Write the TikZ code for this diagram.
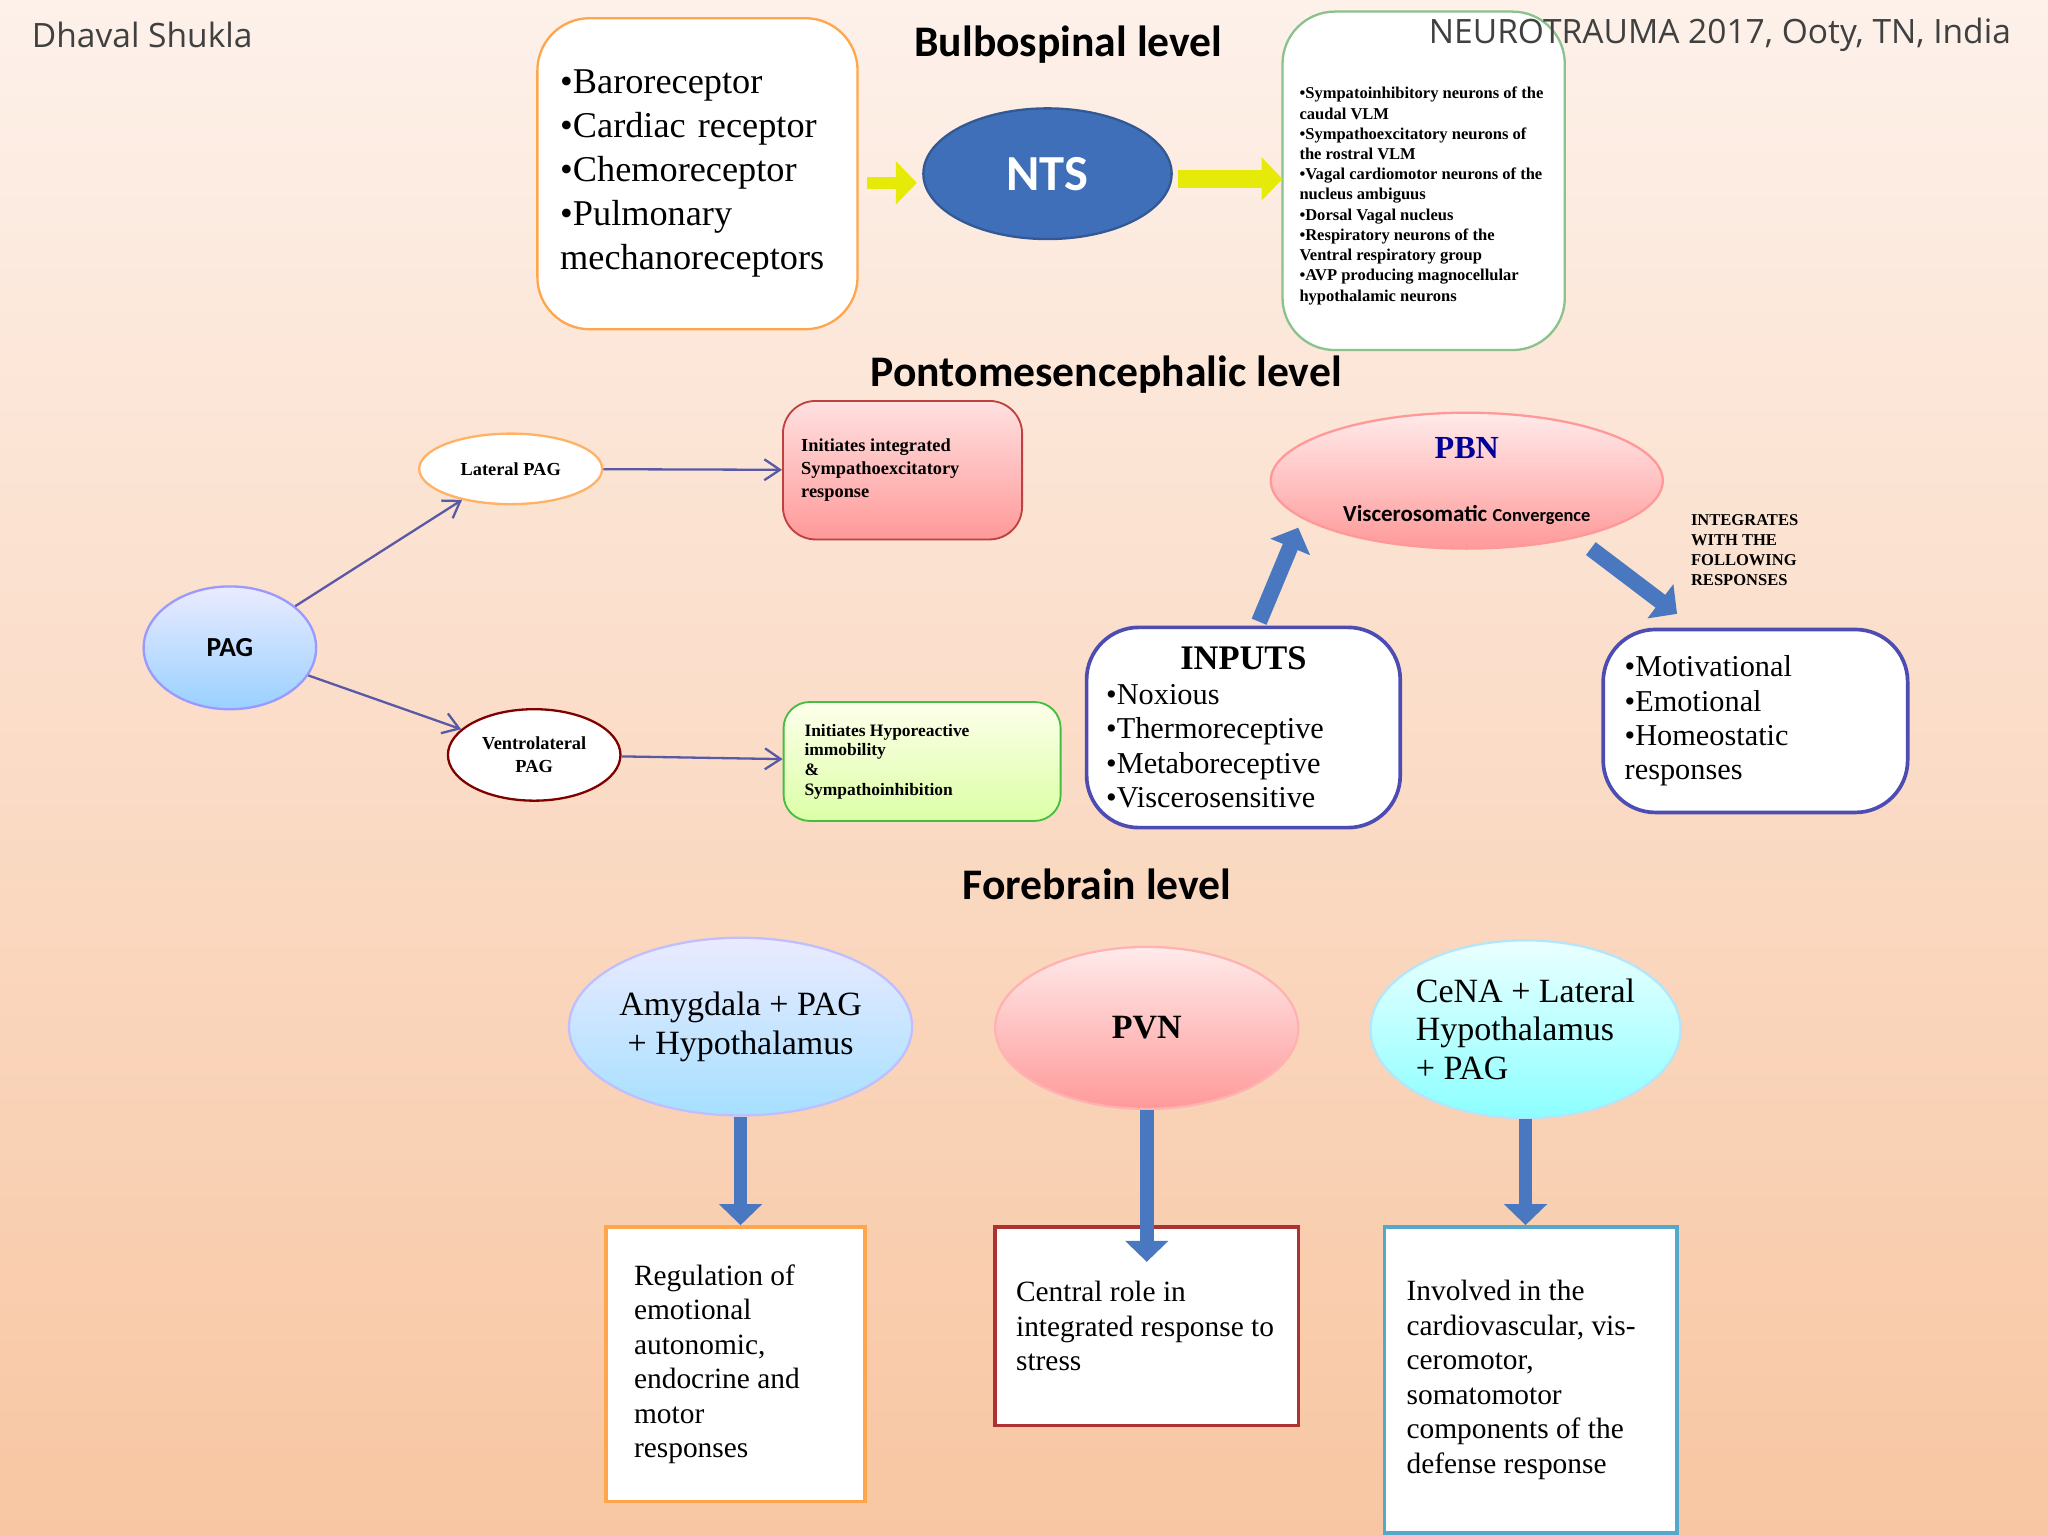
\documentclass[tikz,border=0pt]{standalone}
\usepackage{fontspec}
\setmainfont{Liberation Serif}
\newfontfamily\hdrfont{Open Sans}
\newfontfamily\calfont{Carlito}
\usetikzlibrary{shapes.geometric,arrows.meta}
\definecolor{bgtop}{HTML}{FDF1EA}
\definecolor{bgbot}{HTML}{F8C6A2}
\definecolor{nts}{HTML}{3F6FB8}
\definecolor{barrow}{HTML}{4A78C0}
\tikzset{
 rbox/.style={draw, rounded corners=4mm, fill=white, line width=0.5pt, align=left, inner sep=1.5mm},
 sbox/.style={draw, fill=white, line width=0.8pt, align=flush left, inner sep=1.5mm, text width=#1},
 ell/.style={ellipse, draw, line width=0.5pt, align=center, inner sep=0pt},
 title/.style={font=\calfont\bfseries\fontsize{9.5}{11}\selectfont},
 thinarr/.style={draw=gray!70!blue, line width=0.5pt, -{Straight Barb[length=1.2mm,width=1.6mm]}},
 yarrow/.style={draw=yellow!90!green, line width=#1, -{Triangle[length=1.6mm,width=3.2mm]}},
 barr/.style={draw=barrow, line width=#1, -{Triangle[length=1.6mm,width=3.2mm]}},
}
\begin{document}
\begin{tikzpicture}[x=0.01cm,y=-0.01cm]
\useasboundingbox (0,0) rectangle (1568,1176);
\shade[top color=bgtop, bottom color=bgbot] (0,0) rectangle (1568,1176);
% Bulbospinal
\node[title] (t1) at (818,34) {Bulbospinal level};
\node[rbox, draw=orange!70, minimum width=2.45cm, minimum height=2.38cm, text width=2.1cm, font=\fontsize{7.9}{9.6}\selectfont] (rec) at (534,133) {\textbullet Baroreceptor\\ \textbullet Cardiac receptor\\ \textbullet Chemoreceptor\\ \textbullet Pulmonary\\ mechanoreceptors};
\node[ell, fill=nts, draw=nts!80!black, minimum width=1.9cm, minimum height=1.0cm, text=white, font=\calfont\bfseries\fontsize{11}{12}\selectfont] (nts) at (802,133) {NTS};
\node[rbox, draw=green!30!gray!70, minimum width=2.16cm, minimum height=2.59cm, text width=1.9cm, anchor=north, inner sep=1mm, align=flush left, font=\bfseries\fontsize{3.6}{4.4}\selectfont] (targ) at (1090,8) {\rule{0pt}{3.2mm}\textbullet Sympatoinhibitory neurons of the caudal VLM\\ \textbullet Sympathoexcitatory neurons of the rostral VLM\\ \textbullet Vagal cardiomotor neurons of the nucleus ambiguus\\ \textbullet Dorsal Vagal nucleus\\ \textbullet Respiratory neurons of the Ventral respiratory group\\ \textbullet AVP producing magnocellular hypothalamic neurons\\[14mm]};
\coordinate (y1) at (664,140);
\coordinate (y2) at (702,140);
\coordinate (y3) at (902,137);
\coordinate (y4) at (982,137);
\draw[yarrow=2.5pt] (y1) -- (y2);
\draw[yarrow=4pt] (y3) -- (y4);
\node[anchor=west, font=\hdrfont\fontsize{7.3}{9}\selectfont, text=black!75] (h1) at (12,27) {Dhaval Shukla};
\node[anchor=east, font=\hdrfont\fontsize{7.3}{9}\selectfont, text=black!75] (h2) at (1552,27) {NEUROTRAUMA 2017, Ooty, TN, India};
% Pontomesencephalic
\node[title] (t2) at (847,287) {Pontomesencephalic level};
\node[ell, top color=blue!8, bottom color=blue!45!cyan!40, draw=blue!40, minimum width=1.32cm, minimum height=0.94cm, font=\calfont\bfseries\fontsize{6}{7}\selectfont] (pag) at (176,496) {PAG};
\node[ell, fill=white, draw=orange!60, minimum width=1.4cm, minimum height=0.54cm, font=\bfseries\fontsize{4}{5}\selectfont] (lpag) at (391,359) {Lateral PAG};
\node[ell, fill=white, draw=red!50!black, minimum width=1.32cm, minimum height=0.7cm, font=\bfseries\fontsize{4}{5}\selectfont] (vpag) at (409,578) {Ventrolateral\\PAG};
\node[draw=red!50!gray, rounded corners=2.5mm, top color=red!12, bottom color=red!40, minimum width=1.83cm, minimum height=1.06cm, text width=1.55cm, align=flush left, font=\bfseries\fontsize{4}{5}\selectfont] (pink) at (691,360) {Initiates integrated\\ Sympathoexcitatory\\ response\\[1mm]};
\node[draw=green!50!gray, rounded corners=2mm, top color=green!10!yellow!8, bottom color=green!40!yellow!35, minimum width=2.12cm, minimum height=0.91cm, text width=1.8cm, align=flush left, font=\bfseries\fontsize{3.8}{4.3}\selectfont] (green) at (706,583) {Initiates Hyporeactive\\ immobility\\ \&\\ Sympathoinhibition};
\draw[thinarr] (pag) -- (lpag);
\draw[thinarr] (lpag) -- (pink);
\draw[thinarr] (pag) -- (vpag);
\draw[thinarr] (vpag) -- (green);
\node[ell, top color=red!8, bottom color=red!40, draw=red!40, minimum width=3.0cm, minimum height=1.04cm] (pbn) at (1123,368) {{\bfseries\fontsize{7}{8}\selectfont\color{blue!60!black}PBN}\\[0.6mm] {\calfont\bfseries\fontsize{5}{6}\selectfont Viscerosomatic {\fontsize{4}{5}\selectfont Convergence}}};
\node[rbox, draw=blue!40!gray, line width=0.8pt, minimum width=2.4cm, minimum height=1.52cm, text width=2.1cm, font=\fontsize{6.6}{7.5}\selectfont] (inp) at (952,557) {\centering{\bfseries\fontsize{7.5}{8}\selectfont INPUTS}\par \raggedright\textbullet Noxious\\ \textbullet Thermoreceptive\\ \textbullet Metaboreceptive\\ \textbullet Viscerosensitive};
\node[rbox, draw=blue!40!gray, line width=0.8pt, minimum width=2.33cm, minimum height=1.4cm, text width=2.0cm, font=\fontsize{6.6}{7.5}\selectfont] (resp) at (1344,552) {\textbullet Motivational\\ \textbullet Emotional\\ \textbullet Homeostatic\\ responses};
\node[anchor=north west, align=left, font=\bfseries\fontsize{3.6}{4.4}\selectfont, inner sep=0pt] (integ) at (1294,393) {INTEGRATES\\WITH THE\\FOLLOWING\\RESPONSES};
\coordinate (ia) at (964,476);
\coordinate (ib) at (994,404);
\coordinate (ic) at (1218,420);
\coordinate (id) at (1284,470);
\draw[barr=3.5pt] (ia) -- (ib);
\draw[barr=3.5pt] (ic) -- (id);
% Forebrain
\node[title] (t3) at (840,677) {Forebrain level};
\node[ell, top color=blue!8, bottom color=blue!35!cyan!35, draw=blue!25, minimum width=2.56cm, minimum height=1.36cm, font=\fontsize{7.4}{8.4}\selectfont] (amy) at (567,786) {Amygdala + PAG\\ + Hypothalamus};
\node[ell, top color=red!8, bottom color=red!40, draw=red!30, minimum width=2.32cm, minimum height=1.24cm, font=\bfseries\fontsize{7.4}{8.4}\selectfont] (pvn) at (878,787) {PVN};
\node[ell, top color=cyan!8, bottom color=cyan!45, draw=cyan!30, minimum width=2.16cm, minimum height=1.36cm, align=left, font=\fontsize{7.4}{8.4}\selectfont] (cena) at (1168,788) {CeNA + Lateral\\Hypothalamus\\+ PAG};
\node[sbox=1.55cm, draw=orange!70, minimum width=1.98cm, minimum height=2.1cm, anchor=north, font=\fontsize{6.4}{7.5}\selectfont] (b1) at (563,938) {Regulation of\\ emotional\\ autonomic,\\ endocrine and\\ motor\\ responses};
\node[sbox=2.0cm, draw=red!60!black!80, minimum width=2.32cm, minimum height=1.52cm, anchor=north, font=\fontsize{6.4}{7.5}\selectfont] (b2) at (878,938) {Central role in\\ integrated response to\\ stress\\[3mm]};
\node[sbox=1.9cm, draw=cyan!60!gray, minimum width=2.24cm, minimum height=2.34cm, anchor=north, font=\fontsize{6.4}{7.5}\selectfont] (b3) at (1172,938) {Involved in the\\ cardiovascular, vis-\\ ceromotor,\\ somatomotor\\ components of the\\ defense response};
\draw[barr=3pt] (amy.south) -- (amy.south|-b1.north);
\draw[barr=3pt] (pvn.south) -- ([yshift=-8]pvn.south|-b2.north);
\draw[barr=3pt] (cena.south) -- (cena.south|-b3.north);
\end{tikzpicture}
\end{document}
